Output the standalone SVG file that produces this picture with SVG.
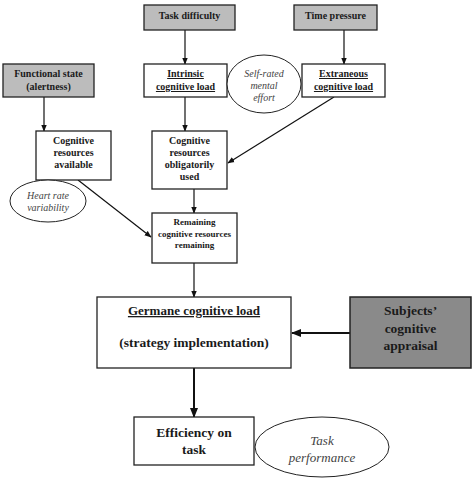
<svg xmlns="http://www.w3.org/2000/svg" width="474" height="479" viewBox="0 0 474 479">
<defs>
<marker id="ah" viewBox="0 0 10 10" refX="9" refY="5" markerWidth="7" markerHeight="7" orient="auto" markerUnits="userSpaceOnUse">
<path d="M0,1 L10,5 L0,9 Z" fill="#111"/>
</marker>
<marker id="ahb" viewBox="0 0 10 10" refX="9" refY="5" markerWidth="10" markerHeight="10" orient="auto" markerUnits="userSpaceOnUse">
<path d="M0,1 L10,5 L0,9 Z" fill="#111"/>
</marker>
</defs>
<style>
.box{fill:#fff;stroke:#222;stroke-width:1.3}
.gray{fill:#bcbcbc;stroke:#222;stroke-width:1.3}
.dark{fill:#8a8a8a;stroke:#222;stroke-width:1.5}
.ell{fill:#fff;stroke:#222;stroke-width:1}
text{font-family:"Liberation Serif","Times New Roman","DejaVu Serif",serif}
.t{font-weight:bold;fill:#1a1a1a;text-anchor:middle}
.s{font-size:10px}
.r{font-size:9px}
.b{font-size:13.5px}
.i{font-style:italic;fill:#444;text-anchor:middle}
.c{stroke:#111;stroke-width:1.2;fill:none}
.cb{stroke:#111;stroke-width:2;fill:none}
</style>
<rect width="474" height="479" fill="#fff"/>
<g id="connectors">
<line class="c" x1="185" y1="30" x2="185" y2="64" marker-end="url(#ah)"/>
<line class="c" x1="344" y1="30" x2="344" y2="64" marker-end="url(#ah)"/>
<line class="c" x1="44" y1="97" x2="44" y2="131" marker-end="url(#ah)"/>
<line class="c" x1="185" y1="97" x2="185" y2="131" marker-end="url(#ah)"/>
<line class="c" x1="334" y1="97" x2="228" y2="163" marker-end="url(#ah)"/>
<line class="c" x1="78" y1="180" x2="151" y2="237" marker-end="url(#ah)"/>
<line class="c" x1="194" y1="189" x2="194" y2="213" marker-end="url(#ah)"/>
<line class="c" x1="194" y1="263" x2="194" y2="297" marker-end="url(#ah)"/>
<line class="cb" x1="350" y1="333" x2="292" y2="333" marker-end="url(#ahb)"/>
<line class="cb" x1="194" y1="368" x2="194" y2="417" marker-end="url(#ahb)"/>
</g>
<g id="task-difficulty">
<rect class="gray" x="144" y="5" width="91" height="25"/>
<text class="t s" x="189.5" y="19">Task difficulty</text>
</g>
<g id="time-pressure">
<rect class="gray" x="294" y="5" width="83" height="25"/>
<text class="t s" x="335.5" y="19">Time pressure</text>
</g>
<g id="functional-state">
<rect class="gray" x="3" y="64" width="91" height="33"/>
<text class="t s" x="48.5" y="77">Functional state</text>
<text class="t s" x="48.5" y="90">(alertness)</text>
</g>
<g id="intrinsic">
<rect class="box" x="144" y="64" width="83" height="33"/>
<text class="t s" x="185.5" y="77" text-decoration="underline">Intrinsic</text>
<text class="t s" x="185.5" y="90" text-decoration="underline">cognitive load</text>
</g>
<g id="self-rated">
<ellipse class="ell" cx="264" cy="84" rx="37" ry="29"/>
<text class="i s" x="264" y="77">Self-rated</text>
<text class="i s" x="264" y="89">mental</text>
<text class="i s" x="264" y="101">effort</text>
</g>
<g id="extraneous">
<rect class="box" x="302" y="64" width="83" height="33"/>
<text class="t s" x="343.5" y="77" text-decoration="underline">Extraneous</text>
<text class="t s" x="343.5" y="90" text-decoration="underline">cognitive load</text>
</g>
<g id="resources-available">
<rect class="box" x="36" y="131" width="75" height="49"/>
<text class="t s" x="73.5" y="144">Cognitive</text>
<text class="t s" x="73.5" y="156">resources</text>
<text class="t s" x="73.5" y="168">available</text>
</g>
<g id="resources-used">
<rect class="box" x="152" y="131" width="75" height="58"/>
<text class="t s" x="189.5" y="144">Cognitive</text>
<text class="t s" x="189.5" y="156">resources</text>
<text class="t s" x="189.5" y="168">obligatorily</text>
<text class="t s" x="189.5" y="180">used</text>
</g>
<g id="heart-rate">
<ellipse class="ell" cx="48" cy="201" rx="38" ry="21"/>
<text class="i s" x="48" y="199">Heart rate</text>
<text class="i s" x="48" y="211">variability</text>
</g>
<g id="remaining">
<rect class="box" x="152" y="213" width="85" height="50"/>
<text class="t r" x="194.5" y="225">Remaining</text>
<text class="t r" x="194.5" y="237">cognitive resources</text>
<text class="t r" x="194.5" y="248">remaining</text>
</g>
<g id="germane">
<rect class="box" x="97" y="297" width="194" height="71" stroke-width="1.6"/>
<text class="t" font-size="13" x="194" y="315" text-decoration="underline">Germane cognitive load</text>
<text class="t b" x="194" y="347">(strategy implementation)</text>
</g>
<g id="appraisal">
<rect class="dark" x="350" y="297" width="121" height="71"/>
<text class="t b" x="410.5" y="315">Subjects’</text>
<text class="t b" x="410.5" y="333">cognitive</text>
<text class="t b" x="410.5" y="350">appraisal</text>
</g>
<g id="efficiency">
<rect class="box" x="134" y="417" width="120" height="48" stroke-width="1.6"/>
<text class="t b" x="194" y="437">Efficiency on</text>
<text class="t b" x="194" y="454">task</text>
</g>
<g id="task-performance">
<ellipse class="ell" cx="322" cy="447" rx="67" ry="30"/>
<text class="i" font-size="13" x="322" y="445">Task</text>
<text class="i" font-size="13" x="322" y="462">performance</text>
</g>
</svg>
